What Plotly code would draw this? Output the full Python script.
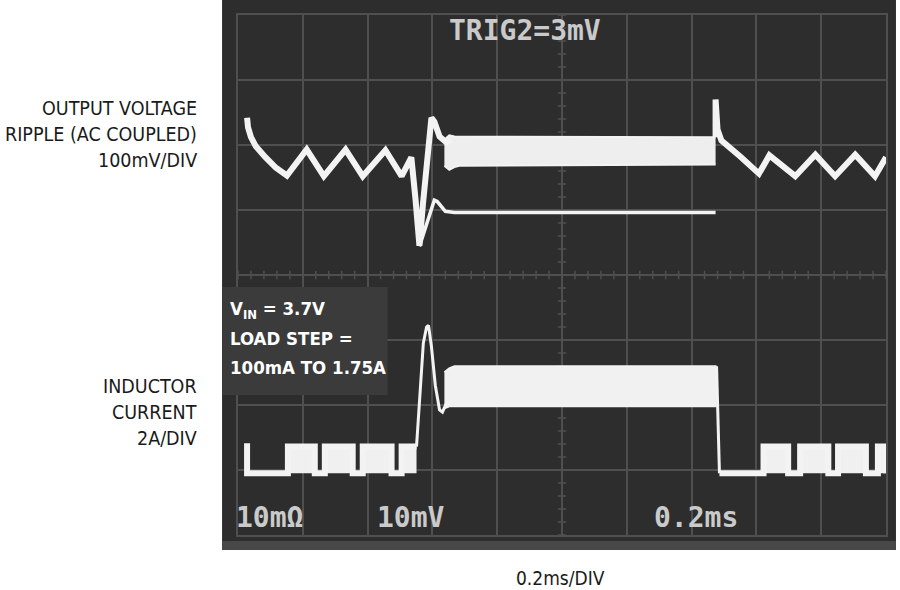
import numpy as np
import plotly.graph_objects as go

# ---------------- data (time in ms, 0.2 ms/DIV) ----------------
# Output voltage ripple (AC coupled), mV, 100 mV/DIV
v_left_t = [0.028, 0.031, 0.040, 0.055, 0.083, 0.117, 0.151, 0.212, 0.265, 0.332,
            0.385, 0.455, 0.505, 0.535, 0.548, 0.560, 0.571, 0.582, 0.597, 0.606,
            0.622, 0.643, 0.658]
v_left_mv = [72, 57, 42, 28, 12, -5, -17, 23, -18, 23,
             -18, 22, -18, 11, -54, -125, -60, 8, 72, 66,
             43, 34, 38]

v_band_t = [0.637, 0.652, 0.668, 0.683, 1.474]
v_band_top_mv = [38, 45, 43, 43, 42]
v_band_bot_mv = [-2, -8, -4, -2, 0]

v_low_t = [0.560, 0.585, 0.606, 0.615, 0.640, 0.668, 1.474]
v_low_mv = [-126, -88, -55, -57, -72, -74, -74]

v_right_t = [1.474, 1.474, 1.480, 1.492, 1.551, 1.608, 1.640, 1.720, 1.782,
             1.843, 1.905, 1.966, 2.000]
v_right_mv = [42, 100, 54, 37, 12, -14, 14, -18, 15,
              -18, 15, -18, 11]

# Inductor current, A, 2 A/DIV
i_left_t = [0.028, 0.028, 0.154, 0.237, 0.268, 0.354, 0.385, 0.474, 0.505, 0.551]
i_left_a = [0.92, 0.0, 0.82, 0.0, 0.82, 0.0, 0.82, 0.0, 0.82, 0.82]

i_spike_t = [0.551, 0.560, 0.572, 0.582, 0.588, 0.597, 0.609, 0.622, 0.631, 0.643, 0.658]
i_spike_a = [0.82, 2.30, 4.00, 4.50, 4.55, 3.90, 2.70, 1.95, 1.88, 2.15, 2.10]

i_band_t = [0.637, 0.652, 0.668, 1.477]
i_band_top_a = [3.11, 3.23, 3.29, 3.29]
i_band_bot_a = [2.00, 2.06, 2.06, 2.06]

i_fall_t = [1.477, 1.486]
i_fall_a = [3.29, 0.0]

i_right_t = [1.486, 1.622, 1.698, 1.735, 1.822, 1.852, 1.938, 1.975, 2.000, 2.000]
i_right_a = [0.0, 0.82, 0.0, 0.82, 0.0, 0.82, 0.0, 0.82, 0.82, 0.0]

# scope settings / labels
t_range = [0.0, 2.0]
t_div = 0.2
v_range = [-570, 230]
v_div = 100
i_range = [-1.9, 14.1]
screen_texts = ["TRIG2=3mV", "10mΩ", "10mV", "0.2ms"]
left_labels_v = ["OUTPUT VOLTAGE", "RIPPLE (AC COUPLED)", "100mV/DIV"]
left_labels_i = ["INDUCTOR", "CURRENT", "2A/DIV"]
box_lines = ["V<sub>IN</sub> = 3.7V", "LOAD STEP =", "100mA TO 1.75A"]
x_title = "0.2ms/DIV"

# ---------------- figure ----------------
W, H = 900, 590
L, R, T, B = 238, 12, 15, 55
PW, PH = W - L - R, H - T - B


def px(x):
    return (x - L) / PW


def py(y):
    return (H - B - y) / PH


TRACE = "#f3f3f3"
GRID = "#4f4f4f"
SCREEN = "#2d2d2d"
NARROW = "Liberation Sans Narrow, DejaVu Sans Condensed, sans-serif"
MONO = "DejaVu Sans Mono, Liberation Mono, monospace"

fig = go.Figure()

# graticule minor ticks on the centre lines
t_center = (t_range[0] + t_range[1]) / 2
v_center = (v_range[0] + v_range[1]) / 2
tick_t = np.arange(t_range[0], t_range[1] + 1e-9, t_div / 5)
tick_v = np.arange(v_range[0], v_range[1] + 1e-9, v_div / 5)
fig.add_trace(go.Scatter(x=tick_t, y=[v_center] * len(tick_t), mode="markers",
                         marker=dict(symbol="line-ns", size=6,
                                     line=dict(color=GRID, width=1.5)),
                         hoverinfo="skip"))
fig.add_trace(go.Scatter(x=[t_center] * len(tick_v), y=tick_v, mode="markers",
                         marker=dict(symbol="line-ew", size=6,
                                     line=dict(color=GRID, width=1.5)),
                         hoverinfo="skip"))

# voltage: ripple band under heavy load
fig.add_trace(go.Scatter(x=v_band_t, y=v_band_top_mv, mode="lines",
                         line=dict(color=TRACE, width=2)))
fig.add_trace(go.Scatter(x=v_band_t, y=v_band_bot_mv, mode="lines",
                         line=dict(color=TRACE, width=2),
                         fill="tonexty", fillcolor="#eeeeee"))
# voltage: second (lower) trace
fig.add_trace(go.Scatter(x=v_low_t, y=v_low_mv, mode="lines",
                         line=dict(color=TRACE, width=3.5)))
# voltage: light-load ripple and transients
fig.add_trace(go.Scatter(x=v_left_t, y=v_left_mv, mode="lines",
                         line=dict(color=TRACE, width=6)))
fig.add_trace(go.Scatter(x=v_right_t, y=v_right_mv, mode="lines",
                         line=dict(color=TRACE, width=6)))

# current: band under heavy load
fig.add_trace(go.Scatter(x=i_band_t, y=i_band_top_a, mode="lines", yaxis="y2",
                         line=dict(color=TRACE, width=2)))
fig.add_trace(go.Scatter(x=i_band_t, y=i_band_bot_a, mode="lines", yaxis="y2",
                         line=dict(color=TRACE, width=2),
                         fill="tonexty", fillcolor="#f1f1f1"))
# current: burst-mode pulses (light load)
fig.add_trace(go.Scatter(x=i_left_t, y=i_left_a, mode="lines", yaxis="y2",
                         line=dict(color=TRACE, width=6, shape="hv"),
                         fill="tozeroy", fillcolor="#f0f0f0"))
fig.add_trace(go.Scatter(x=i_right_t, y=i_right_a, mode="lines", yaxis="y2",
                         line=dict(color=TRACE, width=6, shape="hv"),
                         fill="tozeroy", fillcolor="#f0f0f0"))
# current: step transients
fig.add_trace(go.Scatter(x=i_spike_t, y=i_spike_a, mode="lines", yaxis="y2",
                         line=dict(color=TRACE, width=3)))
fig.add_trace(go.Scatter(x=i_fall_t, y=i_fall_a, mode="lines", yaxis="y2",
                         line=dict(color=TRACE, width=3)))

shapes = [
    # scope screen
    dict(type="rect", xref="paper", yref="paper", layer="below",
         x0=px(222), x1=px(898), y0=py(550), y1=py(0),
         fillcolor=SCREEN, line=dict(width=0)),
    dict(type="rect", xref="paper", yref="paper", layer="below",
         x0=px(222), x1=px(898), y0=py(550), y1=py(541),
         fillcolor="#484848", line=dict(width=0)),
    # condition box
    dict(type="rect", xref="paper", yref="paper", layer="above",
         x0=px(222), x1=px(388), y0=py(395), y1=py(287),
         fillcolor="#3b3b3b", line=dict(width=0)),
]

ann = []
# scope readouts
scr_pos = [(526, 30), (270, 517), (412, 517), (697, 517)]
for txt, (x, y) in zip(screen_texts, scr_pos):
    ann.append(dict(text=txt, x=px(x), y=py(y), xref="paper", yref="paper",
                    showarrow=False, xanchor="center", yanchor="middle",
                    font=dict(family=MONO, size=28, color="#cacaca", weight="bold")))
# left-side labels
for txt, y in zip(left_labels_v, [108, 134, 160]):
    ann.append(dict(text=txt, x=px(199), y=py(y), xref="paper", yref="paper",
                    showarrow=False, xanchor="right", yanchor="middle",
                    font=dict(family=NARROW, size=19.5, color="#1a1a1a")))
for txt, y in zip(left_labels_i, [386, 412, 438]):
    ann.append(dict(text=txt, x=px(199), y=py(y), xref="paper", yref="paper",
                    showarrow=False, xanchor="right", yanchor="middle",
                    font=dict(family=NARROW, size=19.5, color="#1a1a1a")))
# box text
for txt, y in zip(box_lines, [310, 338, 367]):
    ann.append(dict(text=txt, x=px(228), y=py(y), xref="paper", yref="paper",
                    showarrow=False, xanchor="left", yanchor="middle",
                    font=dict(family=NARROW, size=18.5, color="#ffffff", weight="bold")))
# x title
ann.append(dict(text=x_title, x=px(561), y=py(578), xref="paper", yref="paper",
                showarrow=False, xanchor="center", yanchor="middle",
                font=dict(family=NARROW, size=19, color="#1a1a1a")))

fig.update_layout(
    width=W, height=H,
    margin=dict(l=L, r=R, t=T, b=B, pad=0),
    paper_bgcolor="white", plot_bgcolor="rgba(0,0,0,0)",
    showlegend=False,
    shapes=shapes, annotations=ann,
    xaxis=dict(range=t_range, dtick=t_div, tick0=0, showgrid=True,
               gridcolor=GRID, gridwidth=1.5, zeroline=False,
               showticklabels=False, ticks="", showline=True, mirror=True,
               linecolor=GRID, linewidth=1.5, fixedrange=True),
    yaxis=dict(range=v_range, dtick=v_div, tick0=30, showgrid=True,
               gridcolor=GRID, gridwidth=1.5, zeroline=False,
               showticklabels=False, ticks="", showline=True, mirror=True,
               linecolor=GRID, linewidth=1.5, fixedrange=True),
    yaxis2=dict(range=i_range, overlaying="y", showgrid=False, zeroline=False,
                showticklabels=False, ticks="", visible=False, fixedrange=True),
)

fig.write_html("out.html",
               config={"displayModeBar": False},
               post_script="document.body.style.margin='0px';"
                           "document.body.style.overflow='hidden';")
